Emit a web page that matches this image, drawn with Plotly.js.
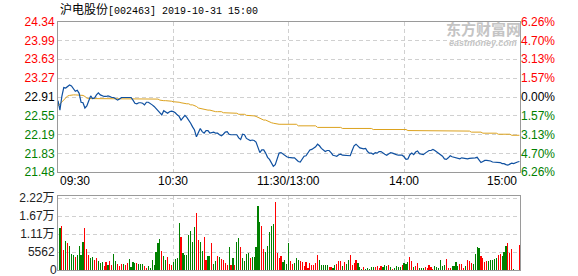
<!DOCTYPE html>
<html>
<head>
<meta charset="utf-8">
<script src="https://cdn.plot.ly/plotly-3.0.1.min.js"></script>
<style>html,body{margin:0;padding:0;background:#fff;}#chart{width:578px;height:276px;}</style>
</head>
<body>
<div id="chart"></div>
<script>
// ---- data ----
const stockName = "沪电股份";
const stockCode = "[002463]";
const stamp = "2019-10-31 15:00";
const prevClose = 22.91;

// minute price (09:30 .. 11:30/13:00 .. 15:00), 241 points
const price = [
22.84,22.66,22.92,23.09,23.08,23.12,23.14,23.12,23.07,23.02,
23.04,22.98,22.81,22.80,22.70,22.74,22.84,22.93,22.88,22.89,
22.95,22.99,22.95,22.93,22.92,22.92,22.93,22.92,22.90,22.90,
22.88,22.85,22.87,22.90,22.90,22.90,22.90,22.90,22.90,22.85,
22.79,22.78,22.80,22.80,22.79,22.76,22.81,22.81,22.79,22.76,
22.73,22.69,22.66,22.62,22.57,22.65,22.62,22.60,22.63,22.64,
22.63,22.61,22.57,22.54,22.47,22.52,22.56,22.52,22.47,22.41,
22.34,22.28,22.15,22.25,22.31,22.25,22.22,22.27,22.27,22.22,
22.23,22.24,22.22,22.22,22.19,22.17,22.20,22.24,22.25,22.20,
22.19,22.19,22.19,22.19,22.13,22.10,22.20,22.19,22.12,22.10,
22.08,22.09,22.08,22.05,21.94,21.85,21.90,21.90,21.84,21.76,
21.72,21.66,21.59,21.62,21.73,21.84,21.85,21.82,21.79,21.77,
21.76,21.75,21.75,21.75,21.71,21.68,21.67,21.72,21.78,21.79,
21.84,21.90,21.91,21.94,21.96,22.01,21.98,21.93,21.89,21.87,
21.89,21.89,21.85,21.80,21.79,21.78,21.81,21.82,21.80,21.80,
21.79,21.80,21.79,21.89,21.98,22.01,21.98,21.94,21.93,21.92,
21.93,21.87,21.84,21.84,21.82,21.85,21.84,21.87,21.87,21.84,
21.82,21.80,21.82,21.85,21.84,21.82,21.81,21.80,21.80,21.80,
21.77,21.72,21.73,21.81,21.84,21.81,21.86,21.88,21.83,21.82,
21.81,21.84,21.87,21.89,21.89,21.91,21.89,21.86,21.84,21.81,
21.78,21.73,21.72,21.75,21.79,21.77,21.76,21.74,21.73,21.73,
21.75,21.74,21.73,21.73,21.74,21.74,21.75,21.75,21.76,21.70,
21.66,21.68,21.70,21.70,21.70,21.69,21.67,21.67,21.66,21.66,
21.66,21.64,21.64,21.62,21.61,21.63,21.65,21.64,21.66,21.67,
21.68
];

// average price line, 241 points
const avgPrice = [
22.74,22.78,22.83,22.87,22.90,22.93,22.94,22.95,22.95,22.95,
22.95,22.95,22.95,22.94,22.92,22.89,22.88,22.88,22.88,22.88,
22.88,22.88,22.88,22.88,22.88,22.88,22.88,22.88,22.88,22.88,
22.88,22.88,22.88,22.88,22.88,22.88,22.88,22.88,22.88,22.88,
22.88,22.88,22.88,22.88,22.88,22.88,22.88,22.88,22.88,22.88,
22.88,22.87,22.87,22.85,22.84,22.84,22.84,22.84,22.83,22.83,
22.82,22.82,22.82,22.81,22.80,22.79,22.79,22.78,22.78,22.76,
22.76,22.75,22.73,22.70,22.69,22.68,22.67,22.66,22.66,22.66,
22.65,22.63,22.63,22.63,22.63,22.63,22.61,22.61,22.61,22.61,
22.60,22.60,22.60,22.60,22.58,22.58,22.58,22.58,22.56,22.56,
22.56,22.56,22.55,22.54,22.52,22.50,22.48,22.47,22.47,22.45,
22.43,22.42,22.41,22.40,22.39,22.39,22.39,22.39,22.39,22.39,
22.39,22.39,22.39,22.39,22.39,22.36,22.36,22.36,22.36,22.36,
22.36,22.36,22.36,22.36,22.36,22.33,22.33,22.33,22.33,22.33,
22.33,22.33,22.33,22.33,22.33,22.33,22.33,22.33,22.31,22.31,
22.31,22.31,22.31,22.31,22.31,22.31,22.31,22.31,22.31,22.31,
22.31,22.31,22.31,22.31,22.29,22.29,22.29,22.29,22.29,22.29,
22.29,22.29,22.29,22.29,22.29,22.29,22.29,22.29,22.29,22.29,
22.29,22.29,22.27,22.27,22.27,22.27,22.27,22.27,22.27,22.27,
22.27,22.27,22.27,22.27,22.27,22.27,22.27,22.27,22.27,22.26,
22.26,22.26,22.26,22.26,22.26,22.26,22.26,22.26,22.26,22.26,
22.26,22.26,22.26,22.26,22.26,22.24,22.24,22.24,22.24,22.24,
22.24,22.22,22.22,22.22,22.22,22.22,22.22,22.22,22.22,22.20,
22.20,22.20,22.20,22.20,22.20,22.20,22.18,22.18,22.18,22.18,
22.18
];

// volume per minute 09:31 .. 15:00 (240 bars), and direction (u = up/red, d = down/green)
const volume = [
12978,13596,6180,8961,8343,7416,4944,4635,4017,4635,
7416,4635,8652,12978,6489,4635,3708,4017,3090,3708,
2781,2163,2472,1236,2472,1545,2781,1545,4944,2781,
1854,1236,1854,1854,1545,2163,3399,927,2472,2163,
2163,1854,1854,1854,1236,618,1236,618,3090,1545,
5562,8343,9579,5871,4326,3090,4017,1854,1545,2472,
3399,3708,14523,10197,5253,4635,4635,10815,12051,8652,
13287,17613,9270,8652,5871,10197,3090,4326,4326,
8343,1854,2781,4326,4017,3399,3090,2163,1545,7107,
1545,3708,1545,8652,9888,7107,3708,2781,4944,5253,
3708,4017,4017,7107,19776,14832,13596,6489,5562,7416,
11742,13596,14214,21012,5253,3708,4326,2472,3090,1854,
8343,2781,1854,2163,3708,3090,2781,2472,1236,2472,
618,2163,1545,1545,2163,4635,3090,1545,1545,1545,
1545,927,927,618,1545,1854,2781,2781,1236,2472,
1854,3090,4635,1545,2163,3090,2163,927,309,927,
309,618,309,927,927,927,1236,618,1236,927,
1545,1236,1545,927,309,618,1236,927,927,1545,
2163,1854,2472,4017,2781,927,1236,2163,618,618,
618,927,618,1545,927,309,1236,927,618,3090,
1236,1545,3399,618,618,1236,1236,2472,1236,1854,
1854,618,1236,3090,2781,2163,1854,4944,7107,6798,
4326,3708,2472,2781,2781,3090,3090,3399,3708,
4635,4944,4326,5562,7416,8343,5253,6489,309,
0,0,7725
];
const volumeDir = [
"d","u","u","d","u","d","d","d","u","d",
"d","d","d","u","u","u","d","d","u","u",
"d","d","d","u","u","d","u","u","d","d",
"u","u","u","d","u","u","d","d","d","d",
"u","d","d","d","u","u","d","d","d","d",
"d","d","d","u","d","d","u","u","u","d",
"d","d","d","u","d","d","d","d","d","d",
"d","u","u","d","d","u","u","d","d",
"u","d","d","u","d","u","u","u","u","d",
"u","d","u","d","d","u","d","d","d","d",
"u","d","d","d","d","d","u","u","d","d",
"d","d","d","u","u","u","u","d","d","d",
"d","u","u","d","d","d","u","u","u","u",
"u","u","u","u","u","u","d","d","d","d",
"d","u","u","d","d","u","u","u","d","u",
"d","d","u","u","u","u","d","d","d","u",
"d","d","d","d","d","u","u","u","u","d",
"d","d","u","d","u","d","d","d","d","u",
"d","d","d","u","u","d","u","u","d","d",
"d","u","u","u","u","u","d","d","d","d",
"d","d","u","u","u","d","d","d","d","u",
"u","u","d","u","u","u","d","d","d","d",
"u","u","u","u","d","d","d","d","d",
"u","u","d","d","d","u","u","u","d",
"d","d","u"
];

// axis ticks
const priceTicks = [21.48,21.83,22.19,22.55,22.91,23.27,23.63,23.99,24.34];
const pctTickText = ["6.26%","4.70%","3.13%","1.57%","0.00%","1.57%","3.13%","4.70%","6.26%"];
const volTicks = [0,5562,11124,16686,22248];
const volTickText = ["0","5562","1.11万","1.67万","2.22万"];
const timeTicks = [0,60,120,180,240];
const timeTickText = ["09:30","10:30","11:30/13:00","14:00","15:00"];

// ---- drawing ----
const RED = "#ff0000", GREEN = "#008000", BLACK = "#000000";
function tickColor(v){ return v > prevClose ? RED : (v < prevClose ? GREEN : BLACK); }
const priceTickText = priceTicks.map(v => '<span style="color:' + tickColor(v) + '">' + v.toFixed(2) + '</span>');
const pctTickHtml = priceTicks.map((v,i) => '<span style="color:' + tickColor(v) + '">' + pctTickText[i] + '</span>');

const minutes = price.map((_, i) => i);
const volMinutes = volume.map((_, i) => i + 1);

const GRID = "#d0d0d0";
const BORDER = "#9a9a9a";
const TICKFONT = {family: "Liberation Sans, Arial, Noto Sans CJK SC, sans-serif", size: 12, color: "#222"};

const traces = [
  {type: "scatter", mode: "lines", x: minutes, y: avgPrice, xaxis: "x", yaxis: "y",
   line: {color: "#dca21e", width: 1}, hoverinfo: "skip"},
  {type: "scatter", mode: "lines", x: minutes, y: price, xaxis: "x", yaxis: "y",
   line: {color: "#0f50a0", width: 1.2}, hoverinfo: "skip"},
  {type: "scatter", mode: "markers", x: [minutes[0]], y: [prevClose], xaxis: "x", yaxis: "y3",
   marker: {opacity: 0}, hoverinfo: "skip"},
  {type: "bar", x: volMinutes, y: volume, xaxis: "x2", yaxis: "y2", width: 0.6,
   marker: {color: volumeDir.map(d => d === "u" ? RED : GREEN), line: {width: 0}}, hoverinfo: "skip"}
];

const priceDomain = [0.3952, 1];
const volDomain = [0, 0.2984];

const timeAnn = timeTicks.map((t, i) => ({
  xref: "x", yref: "paper", x: t, y: 0.3589, yanchor: "middle",
  xanchor: i === 0 ? "left" : (i === timeTicks.length - 1 ? "right" : "center"),
  text: timeTickText[i], showarrow: false,
  font: {family: "Liberation Sans, Arial, sans-serif", size: 12, color: "#000"}
}));

// the bottom volume label ("0") sits on the plot's lower edge; drawn in paper coordinates
const volZeroAnn = {
  xref: "paper", yref: "paper", x: 0, y: volDomain[0], xanchor: "right", yanchor: "middle", xshift: 1,
  text: volTickText[0], showarrow: false, font: TICKFONT
};

const layout = {
  width: 578, height: 276,
  margin: {l: 58, r: 58, t: 22, b: 6, pad: 0},
  paper_bgcolor: "#ffffff", plot_bgcolor: "#ffffff",
  showlegend: false, bargap: 0,
  xaxis: {domain: [0, 1], anchor: "y", range: [0, 240.3], tickvals: timeTicks, showticklabels: false,
          ticks: "", showgrid: true, gridcolor: GRID, griddash: "4px,3px", gridwidth: 1,
          showline: true, mirror: true, linecolor: BORDER, linewidth: 1, zeroline: false, fixedrange: true},
  yaxis: {domain: priceDomain, anchor: "x", range: [21.48, 24.34], tickvals: priceTicks, ticktext: priceTickText,
          tickfont: TICKFONT, ticks: "", showgrid: true, gridcolor: GRID, griddash: "4px,3px", gridwidth: 1,
          showline: true, mirror: true, linecolor: BORDER, linewidth: 1, zeroline: false, fixedrange: true},
  yaxis3: {overlaying: "y", side: "right", anchor: "x", range: [21.48, 24.34], tickvals: priceTicks, ticktext: pctTickHtml,
          tickfont: TICKFONT, ticks: "", showgrid: false, showline: false, zeroline: false, fixedrange: true},
  xaxis2: {domain: [0, 1], anchor: "y2", matches: "x", range: [0, 240.3], tickvals: timeTicks, showticklabels: false,
          ticks: "", showgrid: true, gridcolor: GRID, griddash: "4px,3px", gridwidth: 1,
          showline: true, mirror: true, linecolor: BORDER, linewidth: 1, zeroline: false, fixedrange: true},
  yaxis2: {domain: volDomain, anchor: "x2", range: [0, 22950], tickvals: volTicks.slice(1), ticktext: volTickText.slice(1),
          tickfont: TICKFONT, ticks: "", showgrid: true, gridcolor: GRID, griddash: "4px,3px", gridwidth: 1,
          showline: true, mirror: true, linecolor: BORDER, linewidth: 1, zeroline: false, fixedrange: true},
  annotations: timeAnn.concat([
    volZeroAnn,
    {xref: "paper", yref: "paper", x: 0, y: 1.0544, xanchor: "left", yanchor: "middle", showarrow: false,
     text: '<span style="font-family:Noto Sans CJK SC;font-size:12px">' + stockName + '</span>' + stockCode + ' ' + stamp,
     font: {family: "Liberation Mono, DejaVu Sans Mono, monospace", size: 10, color: "#000"}},
    {xref: "paper", yref: "paper", x: 0.92, y: 0.972, xanchor: "center", yanchor: "middle", showarrow: false,
     text: "<b>东方财富网</b>", font: {family: "Noto Sans CJK SC, sans-serif", size: 15, color: "#c4c4c4"}},
    {xref: "paper", yref: "paper", x: 0.92, y: 0.917, xanchor: "center", yanchor: "middle", showarrow: false,
     text: "<b><i>eastmoney.com</i></b>", font: {family: "Liberation Sans, Arial, sans-serif", size: 9, color: "#c4c4c4"}}
  ])
};

Plotly.newPlot("chart", traces, layout, {staticPlot: true, displayModeBar: false});
</script>
</body>
</html>
